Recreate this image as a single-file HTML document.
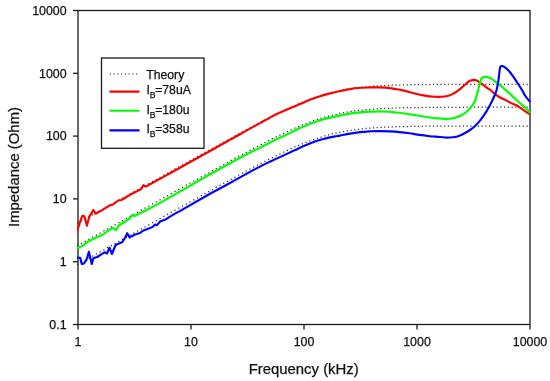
<!DOCTYPE html>
<html><head><meta charset="utf-8"><title>Impedance vs Frequency</title>
<style>
html,body{margin:0;padding:0;background:#fff;}
body{width:550px;height:381px;position:relative;overflow:hidden;font-family:"Liberation Sans",Arial,sans-serif;}
svg text{font-family:"Liberation Sans",Arial,sans-serif;fill:#111;}
.t{font-size:12.4px;stroke:#111;stroke-width:0.25px;}
.l{font-size:12.2px;stroke:#111;stroke-width:0.25px;}
.a{font-size:14.9px;stroke:#111;stroke-width:0.25px;}
</style></head><body>
<svg width="550" height="381" viewBox="0 0 550 381" style="position:absolute;left:0;top:0">
<rect x="0" y="0" width="550" height="381" fill="#fff"/>
<defs><clipPath id="c"><rect x="77.0" y="10.5" width="453.8" height="314.0"/></clipPath></defs>
<rect x="78.0" y="10.5" width="452.0" height="314.0" stroke="#1a1a1a" stroke-width="1.3" fill="none"/>
<g clip-path="url(#c)">
<path d="M77.08,223.07h1.2M80.83,220.99h1.2M84.57,218.91h1.2M88.32,216.83h1.2M92.06,214.75h1.2M95.81,212.67h1.2M99.55,210.59h1.2M103.30,208.51h1.2M107.04,206.42h1.2M110.79,204.34h1.2M114.53,202.26h1.2M118.28,200.18h1.2M122.02,198.10h1.2M125.77,196.02h1.2M129.51,193.94h1.2M133.26,191.86h1.2M137.00,189.78h1.2M140.75,187.70h1.2M144.49,185.62h1.2M148.24,183.54h1.2M151.98,181.46h1.2M155.72,179.38h1.2M159.47,177.30h1.2M163.22,175.22h1.2M166.96,173.14h1.2M170.71,171.06h1.2M174.45,168.99h1.2M178.20,166.91h1.2M181.94,164.83h1.2M185.69,162.76h1.2M189.43,160.68h1.2M193.18,158.61h1.2M196.92,156.54h1.2M200.67,154.47h1.2M204.41,152.40h1.2M208.16,150.34h1.2M211.90,148.27h1.2M215.65,146.21h1.2M219.39,144.15h1.2M223.14,142.10h1.2M226.88,140.05h1.2M230.63,138.01h1.2M234.37,135.97h1.2M238.12,133.94h1.2M241.86,131.92h1.2M245.61,129.90h1.2M249.35,127.90h1.2M253.10,125.91h1.2M256.84,123.94h1.2M260.58,121.98h1.2M264.33,120.04h1.2M268.07,118.12h1.2M271.82,116.23h1.2M275.56,114.36h1.2M279.31,112.52h1.2M283.05,110.72h1.2M286.80,108.96h1.2M290.54,107.24h1.2M294.29,105.57h1.2M298.03,103.96h1.2M301.78,102.40h1.2M305.52,100.90h1.2M309.27,99.47h1.2M313.01,98.11h1.2M316.76,96.82h1.2M320.50,95.61h1.2M324.25,94.47h1.2M328.00,93.42h1.2M331.74,92.44h1.2M335.49,91.55h1.2M339.23,90.73h1.2M342.97,89.98h1.2M346.72,89.31h1.2M350.46,88.70h1.2M354.21,88.16h1.2M357.95,87.67h1.2M361.70,87.24h1.2M365.44,86.86h1.2M369.19,86.53h1.2M372.94,86.23h1.2M376.68,85.98h1.2M380.43,85.75h1.2M384.17,85.56h1.2M387.92,85.38h1.2M391.66,85.24h1.2M395.40,85.11h1.2M399.15,85.00h1.2M402.89,84.90h1.2M406.64,84.82h1.2M410.38,84.74h1.2M414.13,84.68h1.2M417.88,84.63h1.2M421.62,84.58h1.2M425.37,84.54h1.2M429.11,84.51h1.2M432.86,84.48h1.2M436.60,84.45h1.2M440.34,84.43h1.2M444.09,84.41h1.2M447.83,84.40h1.2M451.58,84.38h1.2M455.32,84.37h1.2M459.07,84.36h1.2M462.81,84.35h1.2M466.56,84.35h1.2M470.31,84.34h1.2M474.05,84.33h1.2M477.80,84.33h1.2M481.54,84.32h1.2M485.28,84.32h1.2M489.03,84.32h1.2M492.77,84.32h1.2M496.52,84.31h1.2M500.26,84.31h1.2M504.01,84.31h1.2M507.75,84.31h1.2M511.50,84.31h1.2M515.25,84.31h1.2M518.99,84.31h1.2M522.74,84.30h1.2M526.48,84.30h1.2" stroke="#2a2a2a" stroke-width="1.25" fill="none"/>
<path d="M77.08,245.54h1.2M80.83,243.46h1.2M84.57,241.38h1.2M88.32,239.30h1.2M92.06,237.22h1.2M95.81,235.13h1.2M99.55,233.05h1.2M103.30,230.97h1.2M107.04,228.89h1.2M110.79,226.81h1.2M114.53,224.73h1.2M118.28,222.65h1.2M122.02,220.57h1.2M125.77,218.49h1.2M129.51,216.41h1.2M133.26,214.33h1.2M137.00,212.25h1.2M140.75,210.16h1.2M144.49,208.08h1.2M148.24,206.00h1.2M151.98,203.93h1.2M155.72,201.85h1.2M159.47,199.77h1.2M163.22,197.69h1.2M166.96,195.61h1.2M170.71,193.53h1.2M174.45,191.45h1.2M178.20,189.38h1.2M181.94,187.30h1.2M185.69,185.23h1.2M189.43,183.15h1.2M193.18,181.08h1.2M196.92,179.01h1.2M200.67,176.94h1.2M204.41,174.87h1.2M208.16,172.81h1.2M211.90,170.74h1.2M215.65,168.68h1.2M219.39,166.63h1.2M223.14,164.57h1.2M226.88,162.53h1.2M230.63,160.48h1.2M234.37,158.45h1.2M238.12,156.42h1.2M241.86,154.40h1.2M245.61,152.39h1.2M249.35,150.39h1.2M253.10,148.40h1.2M256.84,146.43h1.2M260.58,144.47h1.2M264.33,142.54h1.2M268.07,140.62h1.2M271.82,138.73h1.2M275.56,136.87h1.2M279.31,135.05h1.2M283.05,133.25h1.2M286.80,131.50h1.2M290.54,129.79h1.2M294.29,128.13h1.2M298.03,126.53h1.2M301.78,124.98h1.2M305.52,123.50h1.2M309.27,122.08h1.2M313.01,120.73h1.2M316.76,119.46h1.2M320.50,118.27h1.2M324.25,117.15h1.2M328.00,116.11h1.2M331.74,115.15h1.2M335.49,114.27h1.2M339.23,113.47h1.2M342.97,112.74h1.2M346.72,112.08h1.2M350.46,111.48h1.2M354.21,110.95h1.2M357.95,110.48h1.2M361.70,110.06h1.2M365.44,109.69h1.2M369.19,109.36h1.2M372.94,109.08h1.2M376.68,108.83h1.2M380.43,108.61h1.2M384.17,108.42h1.2M387.92,108.25h1.2M391.66,108.11h1.2M395.40,107.98h1.2M399.15,107.87h1.2M402.89,107.78h1.2M406.64,107.70h1.2M410.38,107.63h1.2M414.13,107.57h1.2M417.88,107.52h1.2M421.62,107.47h1.2M425.37,107.44h1.2M429.11,107.40h1.2M432.86,107.37h1.2M436.60,107.35h1.2M440.34,107.33h1.2M444.09,107.31h1.2M447.83,107.29h1.2M451.58,107.28h1.2M455.32,107.27h1.2M459.07,107.26h1.2M462.81,107.25h1.2M466.56,107.24h1.2M470.31,107.24h1.2M474.05,107.23h1.2M477.80,107.23h1.2M481.54,107.22h1.2M485.28,107.22h1.2M489.03,107.22h1.2M492.77,107.22h1.2M496.52,107.21h1.2M500.26,107.21h1.2M504.01,107.21h1.2M507.75,107.21h1.2M511.50,107.21h1.2M515.25,107.21h1.2M518.99,107.21h1.2M522.74,107.20h1.2M526.48,107.20h1.2" stroke="#2a2a2a" stroke-width="1.25" fill="none"/>
<path d="M77.08,264.34h1.2M80.83,262.26h1.2M84.57,260.18h1.2M88.32,258.10h1.2M92.06,256.02h1.2M95.81,253.93h1.2M99.55,251.85h1.2M103.30,249.77h1.2M107.04,247.69h1.2M110.79,245.61h1.2M114.53,243.53h1.2M118.28,241.45h1.2M122.02,239.37h1.2M125.77,237.29h1.2M129.51,235.21h1.2M133.26,233.13h1.2M137.00,231.05h1.2M140.75,228.96h1.2M144.49,226.88h1.2M148.24,224.80h1.2M151.98,222.73h1.2M155.72,220.65h1.2M159.47,218.57h1.2M163.22,216.49h1.2M166.96,214.41h1.2M170.71,212.33h1.2M174.45,210.25h1.2M178.20,208.18h1.2M181.94,206.10h1.2M185.69,204.03h1.2M189.43,201.95h1.2M193.18,199.88h1.2M196.92,197.81h1.2M200.67,195.74h1.2M204.41,193.67h1.2M208.16,191.61h1.2M211.90,189.54h1.2M215.65,187.48h1.2M219.39,185.43h1.2M223.14,183.37h1.2M226.88,181.33h1.2M230.63,179.28h1.2M234.37,177.25h1.2M238.12,175.22h1.2M241.86,173.20h1.2M245.61,171.19h1.2M249.35,169.19h1.2M253.10,167.20h1.2M256.84,165.23h1.2M260.58,163.27h1.2M264.33,161.34h1.2M268.07,159.42h1.2M271.82,157.53h1.2M275.56,155.67h1.2M279.31,153.85h1.2M283.05,152.05h1.2M286.80,150.30h1.2M290.54,148.59h1.2M294.29,146.93h1.2M298.03,145.33h1.2M301.78,143.78h1.2M305.52,142.30h1.2M309.27,140.88h1.2M313.01,139.53h1.2M316.76,138.26h1.2M320.50,137.07h1.2M324.25,135.95h1.2M328.00,134.91h1.2M331.74,133.95h1.2M335.49,133.07h1.2M339.23,132.27h1.2M342.97,131.54h1.2M346.72,130.88h1.2M350.46,130.28h1.2M354.21,129.75h1.2M357.95,129.28h1.2M361.70,128.86h1.2M365.44,128.49h1.2M369.19,128.16h1.2M372.94,127.88h1.2M376.68,127.63h1.2M380.43,127.41h1.2M384.17,127.22h1.2M387.92,127.05h1.2M391.66,126.91h1.2M395.40,126.78h1.2M399.15,126.67h1.2M402.89,126.58h1.2M406.64,126.50h1.2M410.38,126.43h1.2M414.13,126.37h1.2M417.88,126.32h1.2M421.62,126.27h1.2M425.37,126.24h1.2M429.11,126.20h1.2M432.86,126.17h1.2M436.60,126.15h1.2M440.34,126.13h1.2M444.09,126.11h1.2M447.83,126.09h1.2M451.58,126.08h1.2M455.32,126.07h1.2M459.07,126.06h1.2M462.81,126.05h1.2M466.56,126.04h1.2M470.31,126.04h1.2M474.05,126.03h1.2M477.80,126.03h1.2M481.54,126.02h1.2M485.28,126.02h1.2M489.03,126.02h1.2M492.77,126.02h1.2M496.52,126.01h1.2M500.26,126.01h1.2M504.01,126.01h1.2M507.75,126.01h1.2M511.50,126.01h1.2M515.25,126.01h1.2M518.99,126.01h1.2M522.74,126.00h1.2M526.48,126.00h1.2" stroke="#2a2a2a" stroke-width="1.25" fill="none"/>
<path d="M77.0,231.0 L78.0,228.5 L80.0,222.0 L82.3,215.8 L84.4,216.4 L86.9,225.8 L89.2,216.9 L93.4,210.0 L95.5,213.7 L101.3,210.6 L109.8,205.3 L112.4,204.8 L118.2,200.5 L121.4,200.0 L130.0,194.8 L133.5,193.0 L141.1,189.1 L143.4,185.2 L145.8,186.6 L174.5,170.8 L210.0,151.0 L230.0,139.8" fill="none" stroke="#ff0000" stroke-width="2.15" stroke-linejoin="round"/>
<path d="M230.0,139.8 C231.7,138.9 236.7,136.1 240.0,134.2 C243.3,132.3 246.7,130.4 250.0,128.6 C253.3,126.8 256.7,124.9 260.0,123.1 C263.3,121.3 266.7,119.3 270.0,117.6 C273.3,115.8 276.7,114.1 280.0,112.6 C283.3,111.0 286.7,109.7 290.0,108.3 C293.3,106.9 296.7,105.5 300.0,104.1 C303.3,102.7 306.7,101.1 310.0,99.8 C313.3,98.5 316.7,97.3 320.0,96.2 C323.3,95.1 326.7,94.2 330.0,93.4 C333.3,92.5 336.7,91.8 340.0,91.1 C343.3,90.4 346.7,89.6 350.0,89.1 C353.3,88.5 356.7,88.1 360.0,87.8 C363.3,87.5 366.7,87.5 370.0,87.4 C373.3,87.3 376.7,87.3 380.0,87.4 C383.3,87.5 387.5,87.8 390.0,88.1 C392.5,88.3 392.7,88.5 394.8,88.9 C396.9,89.3 399.5,89.7 402.7,90.4 C405.9,91.1 410.1,92.3 413.8,93.2 C417.5,94.1 421.5,95.0 424.9,95.6 C428.3,96.2 431.9,96.6 434.4,96.8 C436.9,97.0 438.3,96.9 440.0,96.8 C441.7,96.7 443.1,96.7 444.6,96.5 C446.1,96.3 447.7,96.1 449.2,95.6 C450.7,95.1 452.3,94.3 453.8,93.4 C455.3,92.5 456.9,91.6 458.4,90.4 C459.9,89.2 461.5,87.8 463.0,86.5 C464.5,85.2 466.3,83.4 467.6,82.4 C468.9,81.4 469.8,81.0 470.8,80.6 C471.8,80.2 472.5,79.9 473.5,79.9 C474.5,79.9 475.7,80.1 476.8,80.6 C477.9,81.1 479.2,82.1 480.4,82.9 C481.6,83.7 482.9,84.7 484.1,85.6 C485.3,86.5 486.7,87.7 487.8,88.4 C488.9,89.1 489.3,89.0 490.5,90.0 C491.7,91.0 493.6,92.9 495.1,94.1 C496.6,95.3 498.0,96.2 499.7,97.2 C501.4,98.2 503.4,99.0 505.2,99.9 C507.0,100.9 508.9,102.0 510.7,102.9 C512.5,103.8 514.4,104.2 516.3,105.2 C518.1,106.2 519.5,107.3 521.8,108.8 C524.1,110.3 528.6,113.5 530.0,114.4" fill="none" stroke="#ff0000" stroke-width="2.15" stroke-linejoin="round"/>

<path d="M77.0,248.0 L82.9,245.8 L86.5,242.5 L90.0,240.6 L96.1,237.5 L99.5,236.1 L103.2,234.5 L107.5,231.1 L110.8,229.0 L113.2,227.8 L116.1,230.3 L118.7,225.5 L125.0,221.5 L129.0,219.0 L130.5,217.5 L132.0,215.0 L134.5,216.0 L145.0,210.8 L155.0,205.6 L164.0,200.6 L210.0,174.3 L224.5,166.3 L239.1,158.3 L253.6,150.8 L268.2,143.5 L277.0,138.9" fill="none" stroke="#00ff00" stroke-width="2.15" stroke-linejoin="round"/>
<path d="M277.0,138.9 C278.3,138.3 282.8,136.4 285.0,135.4 C287.2,134.4 288.3,133.7 290.0,132.9 C291.7,132.1 293.3,131.3 295.0,130.5 C296.7,129.7 298.3,128.8 300.0,128.1 C301.7,127.3 303.3,126.7 305.0,126.0 C306.7,125.3 308.3,124.5 310.0,123.8 C311.7,123.1 313.3,122.6 315.0,122.0 C316.7,121.4 317.5,120.9 320.0,120.2 C322.5,119.5 326.7,118.4 330.0,117.6 C333.3,116.8 336.7,116.3 340.0,115.6 C343.3,114.9 346.7,114.1 350.0,113.6 C353.3,113.1 356.7,112.7 360.0,112.4 C363.3,112.1 366.7,111.8 370.0,111.6 C373.3,111.4 376.7,111.4 380.0,111.4 C383.3,111.4 387.5,111.6 390.0,111.8 C392.5,112.0 392.7,112.2 394.8,112.4 C396.9,112.6 399.5,112.8 402.7,113.2 C405.9,113.6 410.1,114.3 413.8,114.9 C417.5,115.5 421.4,116.2 424.9,116.8 C428.4,117.3 432.5,117.9 435.0,118.2 C437.5,118.5 438.3,118.4 440.0,118.5 C441.7,118.6 443.3,118.8 445.0,118.8 C446.7,118.8 448.3,118.9 450.0,118.7 C451.7,118.5 453.3,118.2 455.0,117.8 C456.7,117.3 458.3,116.8 460.0,116.0 C461.7,115.2 463.5,114.1 465.0,113.0 C466.5,111.9 467.8,110.7 469.0,109.5 C470.2,108.3 471.0,107.4 472.0,106.0 C473.0,104.6 474.2,102.9 475.0,101.0 C475.8,99.1 476.2,96.9 476.8,94.8 C477.4,92.7 478.1,90.4 478.6,88.4 C479.1,86.4 479.5,84.5 480.0,82.9 C480.5,81.3 480.9,79.7 481.4,78.7 C481.9,77.8 482.4,77.5 483.2,77.2 C484.0,76.9 485.1,76.9 486.0,76.9 C486.9,77.0 487.6,77.1 488.7,77.5 C489.8,77.9 491.2,78.5 492.4,79.3 C493.6,80.1 494.8,81.2 496.0,82.1 C497.2,83.0 498.5,83.8 499.7,84.8 C500.9,85.8 502.2,86.9 503.4,88.0 C504.6,89.1 505.9,90.2 507.1,91.3 C508.3,92.4 509.2,93.2 510.7,94.6 C512.2,96.0 514.4,98.0 516.3,99.7 C518.1,101.4 520.1,103.2 521.8,104.7 C523.5,106.2 525.0,107.5 526.4,108.8 C527.8,110.1 529.4,112.1 530.0,112.8" fill="none" stroke="#00ff00" stroke-width="2.15" stroke-linejoin="round"/>

<path d="M77.0,257.7 L80.2,257.7 L81.8,264.0 L83.9,263.5 L86.5,259.8 L88.9,251.9 L91.8,264.0 L93.4,258.2 L97.1,257.0 L104.5,252.3 L107.1,253.4 L109.5,247.7 L111.9,254.0 L115.6,245.0 L122.4,241.9 L125.0,238.0 L127.2,233.2 L129.6,237.4 L135.0,234.5 L140.0,233.0 L143.0,230.7 L150.0,228.1 L153.0,226.6 L155.0,224.6 L157.0,225.1 L160.0,221.6 L165.0,219.8 L170.0,216.6 L175.0,213.6 L179.8,211.1 L210.0,193.7 L224.5,186.0 L239.1,177.9 L253.6,169.9 L268.2,162.4" fill="none" stroke="#0000ff" stroke-width="2.15" stroke-linejoin="round"/>
<path d="M268.2,162.4 C270.6,161.3 278.2,158.0 282.7,155.9 C287.2,153.8 291.3,151.8 295.0,150.1 C298.7,148.4 301.7,147.0 305.0,145.6 C308.3,144.2 311.7,142.8 315.0,141.6 C318.3,140.4 321.7,139.5 325.0,138.6 C328.3,137.7 332.5,136.9 335.0,136.4 C337.5,135.9 337.5,136.1 340.0,135.6 C342.5,135.1 346.7,134.2 350.0,133.6 C353.3,133.0 356.7,132.5 360.0,132.1 C363.3,131.7 366.7,131.5 370.0,131.3 C373.3,131.1 376.7,131.1 380.0,131.1 C383.3,131.1 386.8,131.2 390.0,131.4 C393.2,131.6 396.1,131.8 399.3,132.1 C402.6,132.4 406.1,132.8 409.5,133.3 C412.9,133.8 416.2,134.4 419.6,134.9 C423.0,135.4 427.2,135.9 429.8,136.2 C432.4,136.5 433.3,136.5 435.0,136.6 C436.7,136.7 438.3,136.8 440.0,137.0 C441.7,137.2 443.3,137.4 445.0,137.5 C446.7,137.6 448.3,137.6 450.0,137.5 C451.7,137.4 453.3,137.3 455.0,137.0 C456.7,136.7 458.3,136.2 460.0,135.5 C461.7,134.8 463.3,133.9 465.0,133.0 C466.7,132.1 468.3,131.2 470.0,130.0 C471.7,128.8 473.3,127.6 475.0,126.0 C476.7,124.4 478.3,122.6 480.0,120.6 C481.7,118.5 483.6,115.9 485.0,113.7 C486.4,111.5 487.5,109.5 488.6,107.6 C489.7,105.6 490.6,104.1 491.6,102.0 C492.6,99.9 494.0,97.0 494.8,95.0 C495.6,93.0 496.0,92.0 496.5,90.2 C497.0,88.4 497.5,86.0 497.9,83.9 C498.3,81.8 498.5,79.8 498.8,77.5 C499.1,75.2 499.4,71.9 499.7,70.1 C500.0,68.3 500.0,67.3 500.4,66.6 C500.8,65.9 501.4,66.0 502.0,66.0 C502.6,66.0 503.3,66.2 504.3,66.9 C505.3,67.6 506.6,68.6 508.0,70.1 C509.4,71.5 511.1,73.5 512.6,75.6 C514.1,77.7 515.7,80.2 517.2,82.5 C518.7,84.8 520.4,87.5 521.8,89.7 C523.2,92.0 524.0,94.0 525.4,96.0 C526.8,98.0 529.2,100.9 530.0,101.9" fill="none" stroke="#0000ff" stroke-width="2.15" stroke-linejoin="round"/>

</g>
<line x1="73" y1="10.5" x2="78.0" y2="10.5" stroke="#1a1a1a" stroke-width="1.3" fill="none"/>
<text x="66.6" y="14.8" text-anchor="end" class="t">10000</text>
<line x1="73" y1="73.3" x2="78.0" y2="73.3" stroke="#1a1a1a" stroke-width="1.3" fill="none"/>
<text x="66.6" y="77.6" text-anchor="end" class="t">1000</text>
<line x1="73" y1="136.1" x2="78.0" y2="136.1" stroke="#1a1a1a" stroke-width="1.3" fill="none"/>
<text x="66.6" y="140.4" text-anchor="end" class="t">100</text>
<line x1="73" y1="198.9" x2="78.0" y2="198.9" stroke="#1a1a1a" stroke-width="1.3" fill="none"/>
<text x="66.6" y="203.2" text-anchor="end" class="t">10</text>
<line x1="73" y1="261.7" x2="78.0" y2="261.7" stroke="#1a1a1a" stroke-width="1.3" fill="none"/>
<text x="66.6" y="266.0" text-anchor="end" class="t">1</text>
<line x1="73" y1="324.5" x2="78.0" y2="324.5" stroke="#1a1a1a" stroke-width="1.3" fill="none"/>
<text x="66.6" y="328.8" text-anchor="end" class="t">0.1</text>
<line x1="78.0" y1="324.5" x2="78.0" y2="329.5" stroke="#1a1a1a" stroke-width="1.3" fill="none"/>
<text x="78.0" y="346.3" text-anchor="middle" class="t">1</text>
<line x1="191.0" y1="324.5" x2="191.0" y2="329.5" stroke="#1a1a1a" stroke-width="1.3" fill="none"/>
<text x="191.0" y="346.3" text-anchor="middle" class="t">10</text>
<line x1="304.0" y1="324.5" x2="304.0" y2="329.5" stroke="#1a1a1a" stroke-width="1.3" fill="none"/>
<text x="304.0" y="346.3" text-anchor="middle" class="t">100</text>
<line x1="417.0" y1="324.5" x2="417.0" y2="329.5" stroke="#1a1a1a" stroke-width="1.3" fill="none"/>
<text x="417.0" y="346.3" text-anchor="middle" class="t">1000</text>
<line x1="530.0" y1="324.5" x2="530.0" y2="329.5" stroke="#1a1a1a" stroke-width="1.3" fill="none"/>
<text x="530.0" y="346.3" text-anchor="middle" class="t">10000</text>
<text x="303.7" y="373.6" text-anchor="middle" class="a">Frequency (kHz)</text>
<text transform="translate(18.9,167) rotate(-90)" text-anchor="middle" class="a">Impedance (Ohm)</text>
<rect x="101.5" y="58" width="102.5" height="90.3" fill="#fff" stroke="#1a1a1a" stroke-width="1.3" />
<line x1="109.8" y1="74.0" x2="138" y2="74.0" stroke="#222" stroke-width="1.2" stroke-dasharray="1.2 2.55" fill="none"/>
<line x1="110.3" y1="91.6" x2="138.7" y2="91.6" stroke="#ff0000" stroke-width="2.1" stroke-linecap="round"/>
<line x1="110.3" y1="110.8" x2="138.7" y2="110.8" stroke="#00ff00" stroke-width="2.1" stroke-linecap="round"/>
<line x1="110.3" y1="130.4" x2="138.7" y2="130.4" stroke="#0000ff" stroke-width="2.1" stroke-linecap="round"/>
<text x="146.3" y="78.5" class="l">Theory</text>
<text x="146.4" y="94.0" class="l">I<tspan dy="4.4" font-size="8.6">B</tspan><tspan dy="-4.4" dx="-0.3">=78uA</tspan></text>
<text x="146.4" y="113.6" class="l">I<tspan dy="4.4" font-size="8.6">B</tspan><tspan dy="-4.4" dx="-0.3">=180u</tspan></text>
<text x="146.4" y="133.0" class="l">I<tspan dy="4.4" font-size="8.6">B</tspan><tspan dy="-4.4" dx="-0.3">=358u</tspan></text>
</svg>
</body></html>
